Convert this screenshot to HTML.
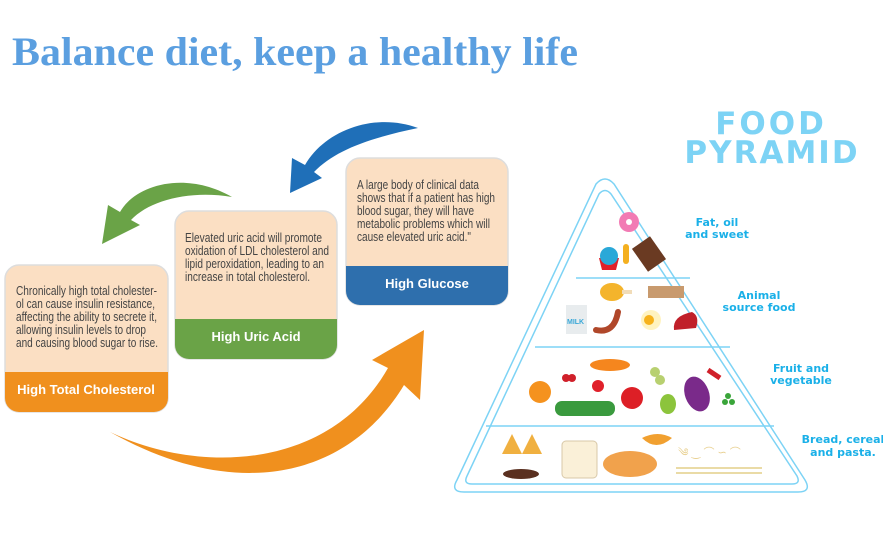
<!DOCTYPE html>
<html><head><meta charset="utf-8"><style>
html,body{margin:0;padding:0;background:#fff;}
svg{display:block;}
.t{font-family:"Liberation Sans",sans-serif;font-size:12.5px;fill:#444;}
.h{font-family:"Liberation Sans",sans-serif;font-size:13px;font-weight:bold;fill:#fff;}
.l{font-family:"DejaVu Sans",sans-serif;font-size:11px;font-weight:bold;fill:#1ab0e8;}
</style></head><body>
<svg width="883" height="546" viewBox="0 0 883 546" xmlns="http://www.w3.org/2000/svg">
<text x="12" y="65" font-family="Liberation Serif,serif" font-weight="bold" font-size="40" textLength="566" lengthAdjust="spacingAndGlyphs" fill="#5b9fe0">Balance diet, keep a healthy life</text>
<text x="771" y="134" text-anchor="middle" font-family="DejaVu Sans,sans-serif" font-weight="bold" font-size="31" letter-spacing="3" fill="#7dd3f5">FOOD</text>
<text x="772" y="163" text-anchor="middle" font-family="DejaVu Sans,sans-serif" font-weight="bold" font-size="31" letter-spacing="2" fill="#7dd3f5">PYRAMID</text>

<!-- arrows -->
<path d="M418,128 C375,112 325,130 305,165 L292,158 L290,193 L322,178 L314,172 C335,150 370,138 418,128 Z" fill="#1f6fb8"/>
<path d="M232,197 C185,170 135,185 120,212 L108,205 L102,244 L140,225 L131,220 C150,200 190,190 232,197 Z" fill="#6aa347"/>
<path d="M110,432 C200,475 330,470 388,368 L372,360 L424,330 L420,400 L404,385 C350,475 240,505 110,432 Z" fill="#f0901e"/>

<!-- boxes -->
<g>
<rect x="5" y="265" width="163" height="147" rx="14" fill="#fbdfc3" stroke="#ddd" stroke-width="1.5"/>
<path d="M5,372 H168 V398 a14,14 0 0 1 -14,14 H19 a14,14 0 0 1 -14,-14 Z" fill="#f0901e"/>
<text class="t" x="16" y="295" textLength="141" lengthAdjust="spacingAndGlyphs">Chronically high total cholester-</text>
<text class="t" x="16" y="308" textLength="139" lengthAdjust="spacingAndGlyphs">ol can cause insulin resistance,</text>
<text class="t" x="16" y="321" textLength="141" lengthAdjust="spacingAndGlyphs">affecting the ability to secrete it,</text>
<text class="t" x="16" y="334" textLength="130" lengthAdjust="spacingAndGlyphs">allowing insulin levels to drop</text>
<text class="t" x="16" y="347" textLength="142" lengthAdjust="spacingAndGlyphs">and causing blood sugar to rise.</text>
<text class="h" x="86" y="394" text-anchor="middle">High Total Cholesterol</text>
</g>
<g>
<rect x="175" y="211" width="162" height="148" rx="14" fill="#fbdfc3" stroke="#ddd" stroke-width="1.5"/>
<path d="M175,319 H337 V345 a14,14 0 0 1 -14,14 H189 a14,14 0 0 1 -14,-14 Z" fill="#6aa347"/>
<text class="t" x="185" y="242" textLength="137" lengthAdjust="spacingAndGlyphs">Elevated uric acid will promote</text>
<text class="t" x="185" y="255" textLength="144" lengthAdjust="spacingAndGlyphs">oxidation of LDL cholesterol and</text>
<text class="t" x="185" y="268" textLength="139" lengthAdjust="spacingAndGlyphs">lipid peroxidation, leading to an</text>
<text class="t" x="185" y="281" textLength="125" lengthAdjust="spacingAndGlyphs">increase in total cholesterol.</text>
<text class="h" x="256" y="341" text-anchor="middle">High Uric Acid</text>
</g>
<g>
<rect x="346" y="158" width="162" height="147" rx="14" fill="#fbdfc3" stroke="#ddd" stroke-width="1.5"/>
<path d="M346,266 H508 V291 a14,14 0 0 1 -14,14 H360 a14,14 0 0 1 -14,-14 Z" fill="#2e6fad"/>
<text class="t" x="357" y="189" textLength="122" lengthAdjust="spacingAndGlyphs">A large body of clinical data</text>
<text class="t" x="357" y="202" textLength="138" lengthAdjust="spacingAndGlyphs">shows that if a patient has high</text>
<text class="t" x="357" y="215" textLength="117" lengthAdjust="spacingAndGlyphs">blood sugar, they will have</text>
<text class="t" x="357" y="228" textLength="133" lengthAdjust="spacingAndGlyphs">metabolic problems which will</text>
<text class="t" x="357" y="241" textLength="114" lengthAdjust="spacingAndGlyphs">cause elevated uric acid."</text>
<text class="h" x="427" y="288" text-anchor="middle">High Glucose</text>
</g>

<!-- pyramid -->
<path d="M596,184 Q605,174 614,184 L805,480 Q812,492 798,492 L464,492 Q450,492 457,480 Z" fill="none" stroke="#7dd3f5" stroke-width="1.5"/>
<path d="M599,194 Q605,187 611,194 L797,476 Q801,484 792,484 L472,484 Q463,484 467,476 Z" fill="none" stroke="#7dd3f5" stroke-width="1.5"/>
<line x1="576" y1="278" x2="690" y2="278" stroke="#7dd3f5" stroke-width="1.5"/>
<line x1="535" y1="347" x2="730" y2="347" stroke="#7dd3f5" stroke-width="1.5"/>
<line x1="486" y1="426" x2="774" y2="426" stroke="#7dd3f5" stroke-width="1.5"/>
<text class="l" x="717" y="226" text-anchor="middle">Fat, oil</text>
<text class="l" x="717" y="238" text-anchor="middle">and sweet</text>
<text class="l" x="759" y="299" text-anchor="middle">Animal</text>
<text class="l" x="759" y="311" text-anchor="middle">source food</text>
<text class="l" x="801" y="372" text-anchor="middle">Fruit and</text>
<text class="l" x="801" y="384" text-anchor="middle">vegetable</text>
<text class="l" x="843" y="443" text-anchor="middle">Bread, cereal</text>
<text class="l" x="843" y="456" text-anchor="middle">and pasta.</text>

<!-- food icons -->
<circle cx="629" cy="222" r="10" fill="#f27bb4"/><circle cx="629" cy="222" r="3" fill="#fff"/>
<path d="M599,258 h20 l-3,12 h-14 Z" fill="#e0202a"/><circle cx="609" cy="256" r="9" fill="#2aa8d8"/>
<rect x="623" y="244" width="6" height="20" rx="3" fill="#f4b020"/>
<rect x="638" y="240" width="22" height="28" transform="rotate(-35 649 254)" fill="#6a3a22"/>
<ellipse cx="612" cy="292" rx="12" ry="9" fill="#f4b42c"/><rect x="622" y="290" width="10" height="4" fill="#f1dcb8"/>
<rect x="648" y="286" width="36" height="12" fill="#c89a6e"/>
<rect x="566" y="305" width="21" height="29" fill="#e8ecee"/><text x="567" y="324" font-family="Liberation Sans" font-size="7" font-weight="bold" fill="#3aa8d8">MILK</text>
<path d="M596,330 q18,4 22,-18" stroke="#b0472a" stroke-width="6" fill="none" stroke-linecap="round"/>
<circle cx="651" cy="320" r="10" fill="#fff3c0"/><circle cx="649" cy="320" r="5" fill="#f6b21c"/>
<path d="M674,330 q-2,-14 18,-18 q8,4 4,16 Z" fill="#c0202a"/>
<circle cx="540" cy="392" r="11" fill="#f5921e"/>
<circle cx="566" cy="378" r="4" fill="#d0202a"/><circle cx="572" cy="378" r="4" fill="#d0202a"/>
<ellipse cx="610" cy="365" rx="20" ry="6" fill="#f5861e"/>
<circle cx="598" cy="386" r="6" fill="#e0202a"/>
<rect x="555" y="401" width="60" height="15" rx="7" fill="#3a9a3e"/>
<circle cx="632" cy="398" r="11" fill="#dd1f26"/>
<circle cx="655" cy="372" r="5" fill="#b8d070"/><circle cx="660" cy="380" r="5" fill="#b8d070"/>
<ellipse cx="668" cy="404" rx="8" ry="10" fill="#8cc43c"/>
<ellipse cx="697" cy="394" rx="12" ry="18" transform="rotate(-20 697 394)" fill="#7a2a8a"/>
<path d="M708,370 l12,8" stroke="#d0202a" stroke-width="5"/>
<circle cx="725" cy="402" r="3" fill="#3aa53a"/><circle cx="732" cy="402" r="3" fill="#3aa53a"/><circle cx="728" cy="396" r="3" fill="#3aa53a"/>
<path d="M502,454 l10,-20 l10,20 l10,-20 l10,20 Z" fill="#f0b040"/><ellipse cx="521" cy="474" rx="18" ry="5" fill="#5a3020"/>
<rect x="562" y="441" width="35" height="37" rx="4" fill="#faf0d8" stroke="#d8c8a8"/>
<ellipse cx="630" cy="464" rx="27" ry="13" fill="#f1a24c"/>
<path d="M642,438 q14,14 30,0 q-14,-8 -30,0 Z" fill="#f1a030"/>
<text x="678" y="456" font-family="Liberation Sans" font-size="11" fill="#e8d090">༄ ‿ ⌒ ∽ ⌒</text>
<line x1="676" y1="468" x2="762" y2="468" stroke="#eadba6" stroke-width="2"/>
<line x1="676" y1="473" x2="762" y2="473" stroke="#eadba6" stroke-width="2"/>
</svg>
</body></html>
